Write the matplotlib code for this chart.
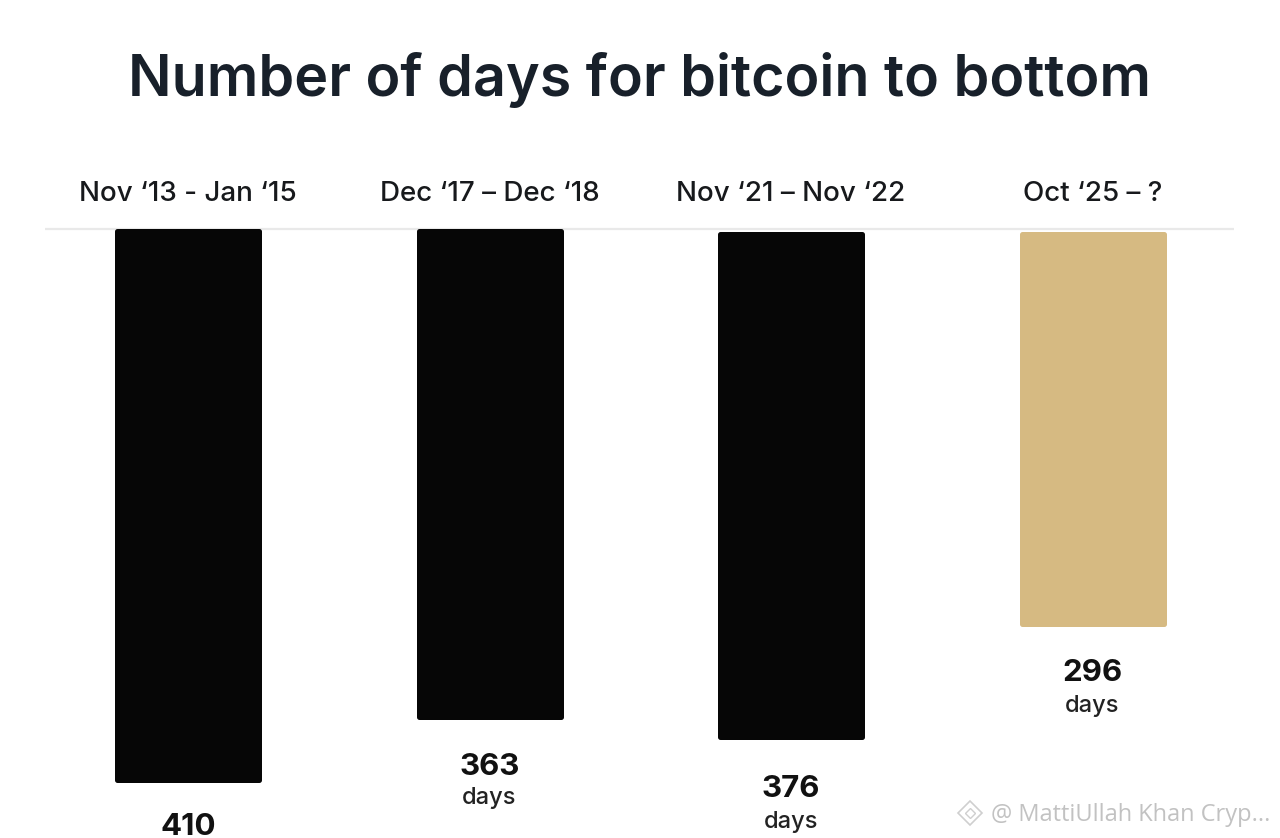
import matplotlib
matplotlib.use("Agg")
import matplotlib.pyplot as plt

W, H = 1280, 838
periods = ["Nov ‘13 - Jan ‘15", "Dec ‘17 – Dec ‘18", "Nov ‘21 – Nov ‘22", "Oct ‘25 – ?"]
days = [410, 363, 376, 296]
# lengths as actually drawn in the picture (in days), with small top offsets
bar_start = [0, 0, 1.5, 1.5]
bar_end = [410, 363.4, 377.5, 294.2]
colors = ["#060606", "#060606", "#060606", "#d6ba82"]
title = "Number of days for bitcoin to bottom"
unit = "days"
watermark = "@ MattiUllah Khan Cryp..."

plt.rcParams['font.family'] = ['Inter', 'DejaVu Sans']
fig = plt.figure(figsize=(W/100, H/100), dpi=100, facecolor='white')
ax = fig.add_axes([0, 0, 1, 1])
y0 = 229
scale = 1.351
xc0, xc3 = 188, 1092.6
step = (xc3 - xc0) / 3
ax.set_xlim(-xc0/step, (W-xc0)/step)
ax.set_ylim((H-y0)/scale, -y0/scale)
ax.axis('off')

def py(p):
    return (p - y0) / scale

ax.hlines(py(229.5), (45-xc0)/step, (1234-xc0)/step, color='#e9e9e9', lw=1.6, zorder=1)
bw = (147 - 5) / step
num_y = [827, 767, 789, 673]
unit_y = [None, 798, 822, 706]
for i, (p, d, c) in enumerate(zip(periods, days, colors)):
    ax.bar(i, bar_end[i] - bar_start[i] - 5/scale, bottom=bar_start[i] + 2.5/scale, width=bw,
           color=c, edgecolor=c, linewidth=3.6, joinstyle='round', zorder=2)
    ax.text(i, py(194), p, ha='center', va='center', fontsize=20, color='#17191c', fontweight='medium')
    ax.text(i, py(num_y[i]), str(d), ha='center', va='center', fontsize=22.5, color='#111', fontweight='bold')
    if unit_y[i] is not None:
        ax.text(i, py(unit_y[i]), unit, ha='center', va='center', fontsize=17, color='#222', fontweight='medium')

fig.text(640/W, 1-80.5/H, title, ha='center', va='center', fontsize=41.3, color='#18202a', fontweight='semibold')
fig.text(1131/W, 1-815/H, watermark, ha='center', va='center', fontsize=17, color='#c2c2c2',
         family=['Open Sans', 'DejaVu Sans'])
# small exchange-logo mark next to the watermark
ax.plot([(970-xc0)/step], [py(813)], marker='D', ms=12, mfc='none', mec='#cfcfcf', mew=1.2, clip_on=False)
ax.plot([(970-xc0)/step], [py(813)], marker='D', ms=5, mfc='none', mec='#cfcfcf', mew=1.0, clip_on=False)
fig.savefig('out.png', dpi=100)
